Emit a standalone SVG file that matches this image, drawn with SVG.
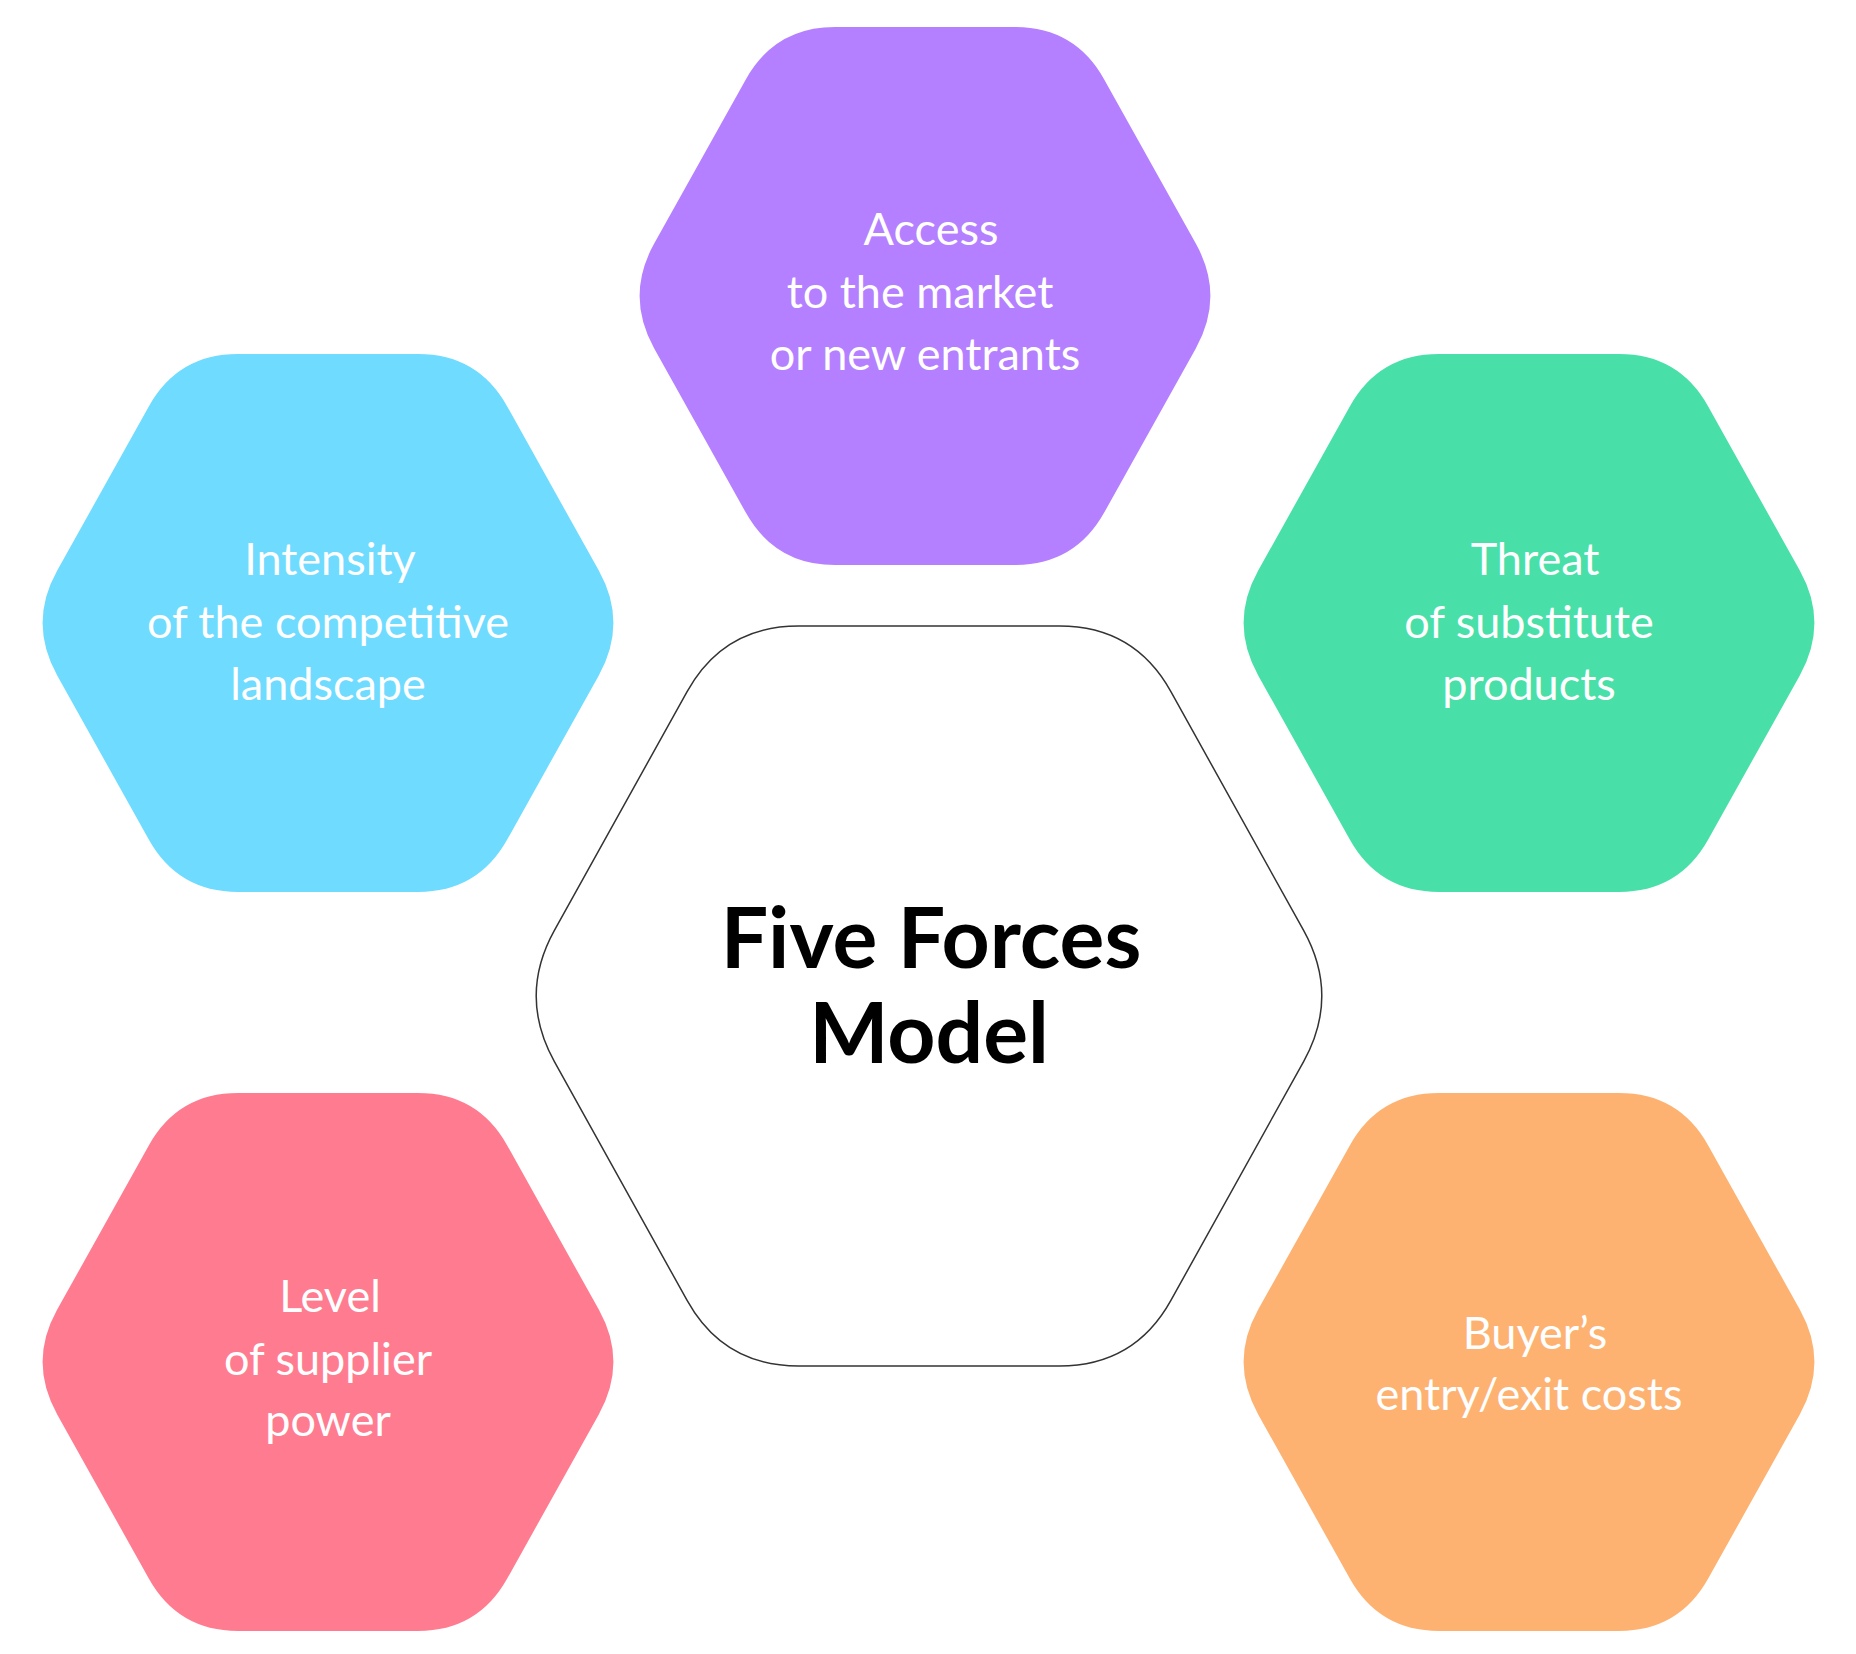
<svg xmlns="http://www.w3.org/2000/svg" width="1856" height="1654" viewBox="0 0 1856 1654">
<style>
.t{font-family:Lato,"Liberation Sans",sans-serif;font-size:45px;fill:#fff;text-anchor:middle}
.c{font-family:Lato,"Liberation Sans",sans-serif;font-size:84px;font-weight:bold;fill:#000;text-anchor:middle}
</style>
<defs>
<path id="hx" d="M-90,-269 L90,-269 Q150,-269 179.2,-216.6 L270.8,-52.4 Q300,0 270.8,52.4 L179.2,216.6 Q150,269 90,269 L-90,269 Q-150,269 -179.2,216.6 L-270.8,52.4 Q-300,0 -270.8,-52.4 L-179.2,-216.6 Q-150,-269 -90,-269 Z"/>
</defs>
<rect width="1856" height="1654" fill="#fff"/>
<g id="connectors"/>
<g id="center">
<path transform="translate(929,996)" d="M-130.5,-370 L130.5,-370 Q205.5,-370 241.9,-304.4 L374.6,-65.6 Q411,0 374.6,65.6 L241.9,304.4 Q205.5,370 130.5,370 L-130.5,370 Q-205.5,370 -241.9,304.4 L-374.6,65.6 Q-411,0 -374.6,-65.6 L-241.9,-304.4 Q-205.5,-370 -130.5,-370 Z" fill="#fff" stroke="#333" stroke-width="1.5"/>
<text class="c" x="931" y="968">Five Forces</text>
<text class="c" x="929" y="1063">Model</text>
</g>
<g id="top">
<use href="#hx" x="925" y="296" fill="#B580FF"/>
<text class="t" x="931" y="245">Access</text>
<text class="t" x="920" y="308">to the market</text>
<text class="t" x="925" y="370">or new entrants</text>
</g>
<g id="left">
<use href="#hx" x="328" y="623" fill="#6EDBFF"/>
<text class="t" x="330" y="575">Intensity</text>
<text class="t" x="328" y="638">of the competitive</text>
<text class="t" x="328" y="700">landscape</text>
</g>
<g id="right">
<use href="#hx" x="1529" y="623" fill="#48E0A8"/>
<text class="t" x="1535" y="575">Threat</text>
<text class="t" x="1529" y="638">of substitute</text>
<text class="t" x="1529" y="700">products</text>
</g>
<g id="bottomleft">
<use href="#hx" x="328" y="1362" fill="#FF7B90"/>
<text class="t" x="330" y="1312">Level</text>
<text class="t" x="328" y="1375">of supplier</text>
<text class="t" x="328" y="1436">power</text>
</g>
<g id="bottomright">
<use href="#hx" x="1529" y="1362" fill="#FDB272"/>
<text class="t" x="1535" y="1349">Buyer’s</text>
<text class="t" x="1529" y="1410">entry/exit costs</text>
</g>
</svg>
